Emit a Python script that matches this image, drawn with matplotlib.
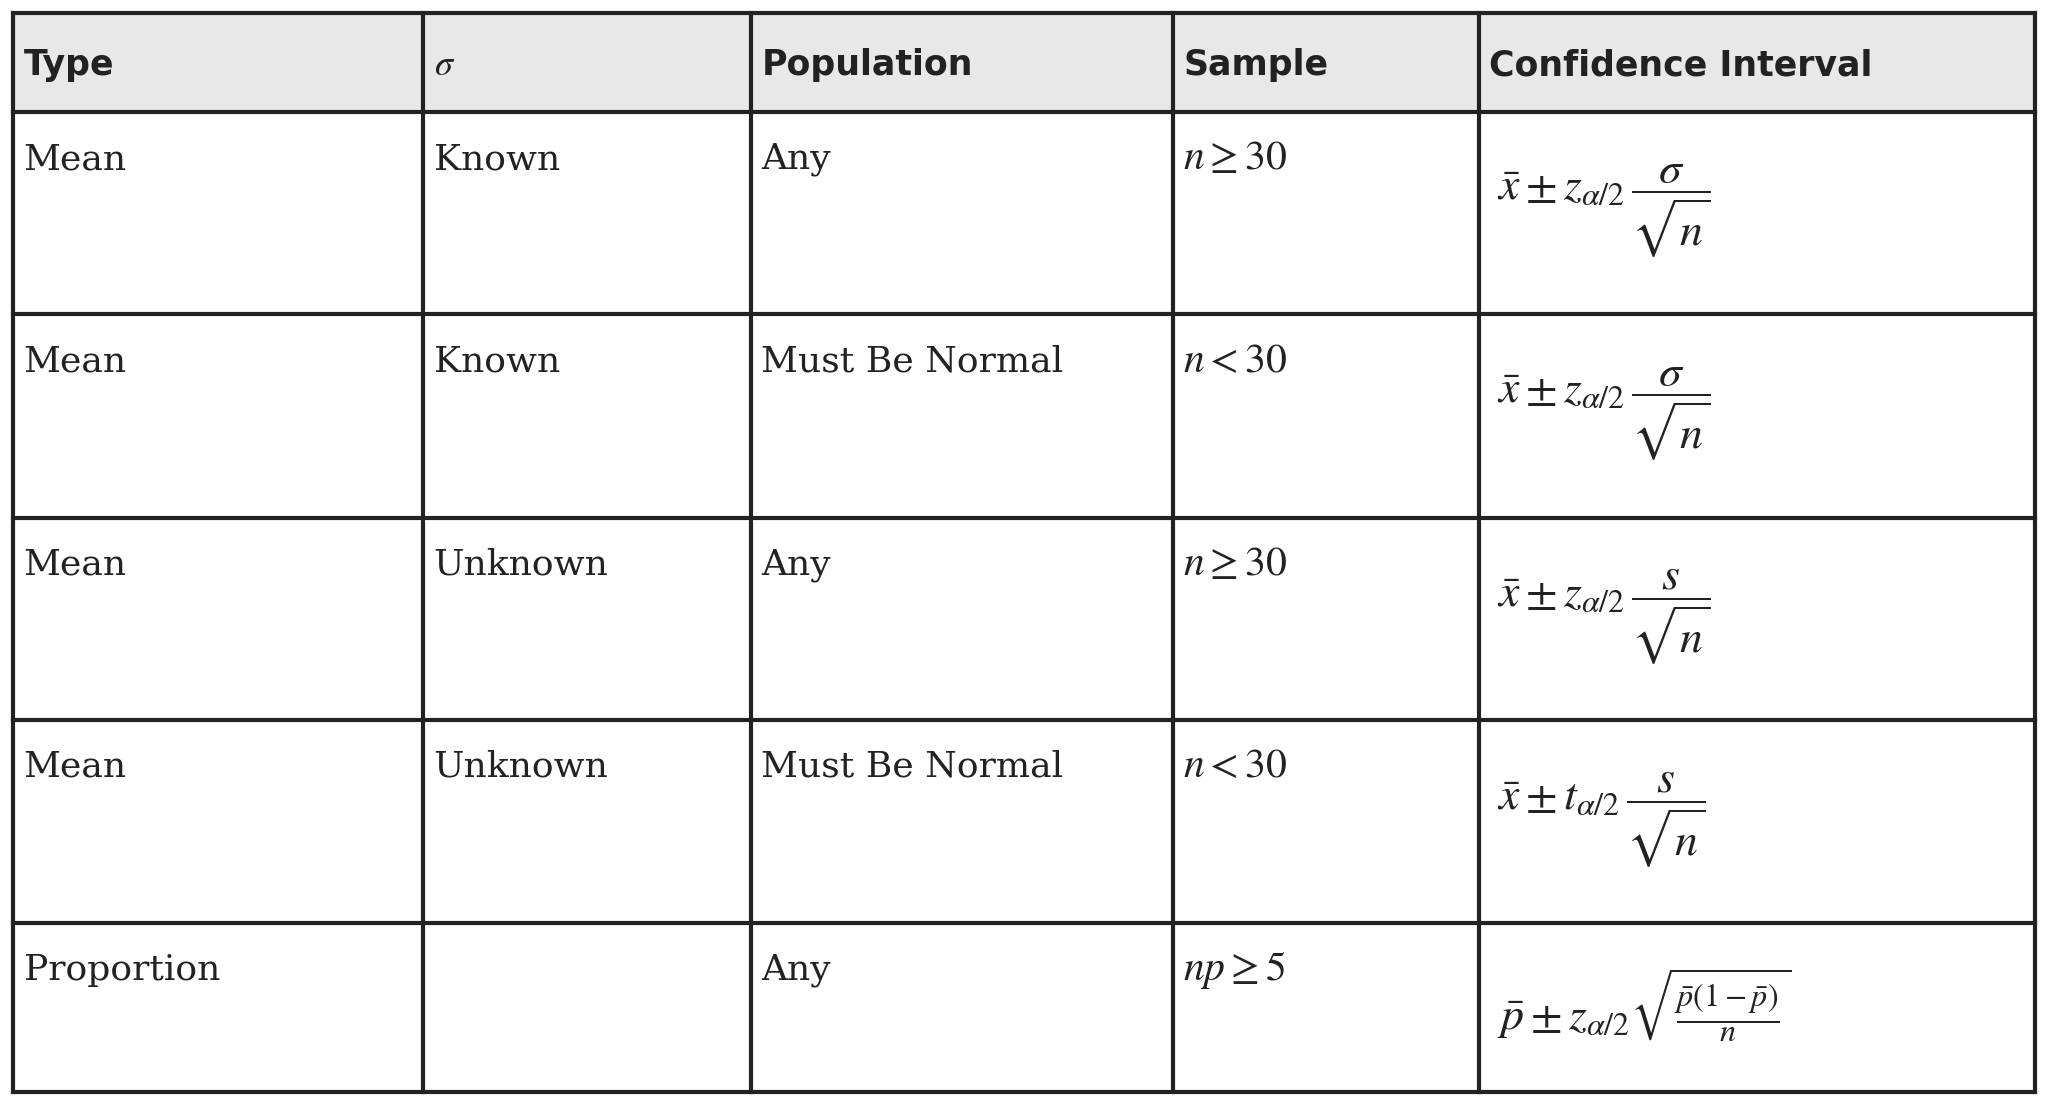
import matplotlib
matplotlib.use("Agg")
import matplotlib.pyplot as plt

plt.rcParams['mathtext.fontset'] = 'stix'

headers = ["Type", r"$\sigma$", "Population", "Sample", "Confidence Interval"]
types = ["Mean", "Mean", "Mean", "Mean", "Proportion"]
sigma = ["Known", "Known", "Unknown", "Unknown", ""]
population = ["Any", "Must Be Normal", "Any", "Must Be Normal", "Any"]
sample = [r"$n \geq 30$", r"$n < 30$", r"$n \geq 30$", r"$n < 30$", r"$np \geq 5$"]
ci = [r"$\bar{x} \pm z_{\alpha/2}\,\dfrac{\sigma}{\sqrt{n}}$",
      r"$\bar{x} \pm z_{\alpha/2}\,\dfrac{\sigma}{\sqrt{n}}$",
      r"$\bar{x} \pm z_{\alpha/2}\,\dfrac{s}{\sqrt{n}}$",
      r"$\bar{x} \pm t_{\alpha/2}\,\dfrac{s}{\sqrt{n}}$",
      r"$\bar{p} \pm z_{\alpha/2}\sqrt{\frac{\bar{p}(1-\bar{p})}{n}}$"]

colx = [10, 324, 575, 898, 1132, 1558]
rowy = [10, 86, 241, 397, 552, 708, 837]

fig = plt.figure(figsize=(20.48, 11.06), dpi=100)
ax = fig.add_axes([0, 0, 1, 1])
ax.set_xlim(0, 1568); ax.set_ylim(848, 0); ax.axis('off')

ax.fill_between([colx[0], colx[-1]], rowy[0], rowy[1], color='#e8e8e8', zorder=0)
for x in colx:
    ax.plot([x, x], [rowy[0], rowy[-1]], color='#222222', lw=3, solid_capstyle='projecting')
for y in rowy:
    ax.plot([colx[0], colx[-1]], [y, y], color='#222222', lw=3, solid_capstyle='projecting')

for j, h in enumerate(headers):
    kw = dict(fontsize=25, fontweight='bold', family='DejaVu Sans') if j != 1 else dict(fontsize=26)
    ax.text(colx[j] + 8, (rowy[0] + rowy[1]) / 2 + 2, h, va='center', ha='left', color='#222222', **kw)

cols = [types, sigma, population, sample]
for i in range(5):
    top = rowy[i + 1]
    for j, col in enumerate(cols):
        fam = 'DejaVu Serif' if j < 3 else 'Liberation Serif'
        ax.text(colx[j] + 8, top + 36, col[i], va='center', ha='left', fontsize=26 if j < 3 else 30,
                family=fam, color='#222222')
    ax.text(colx[4] + 14, (top + rowy[i + 2]) / 2 - 2, ci[i], va='center', ha='left',
            fontsize=33, color='#222222')

fig.savefig("out.png", dpi=100)
